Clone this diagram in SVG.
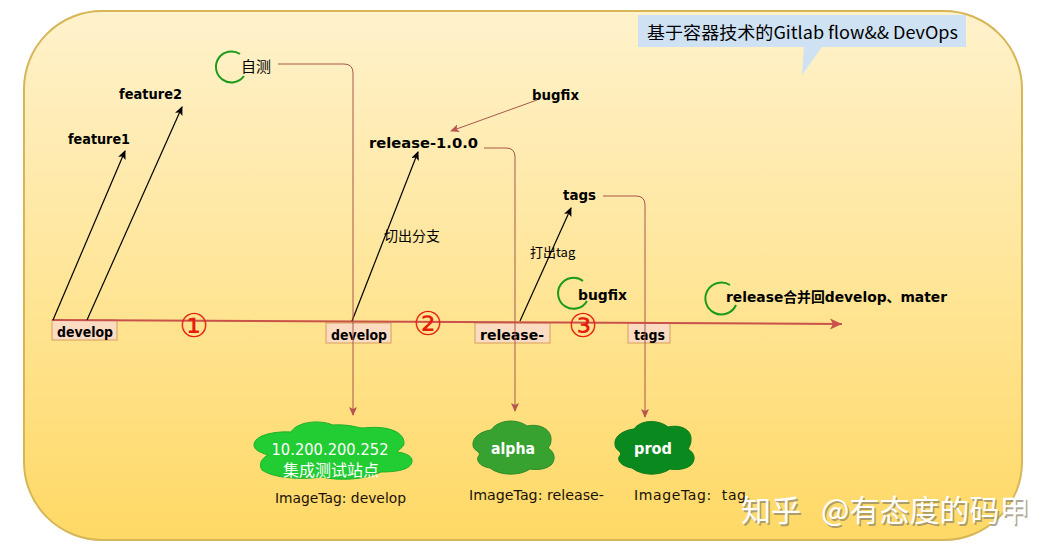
<svg xmlns="http://www.w3.org/2000/svg" width="1055" height="553" viewBox="0 0 1055 553">
<style>
text{font-family:"DejaVu Sans","Noto Sans CJK SC",sans-serif;fill:#000}
.b{font-size:14px;font-weight:bold}
.n{font-size:14px;fill:#1a1208}
.cjk{font-family:"Noto Sans CJK SC",sans-serif}
.tag{fill:#fbdcc2;stroke:#d6a05a;stroke-width:1}
.red{fill:none;stroke:#a8564a;stroke-width:1}
.blk{fill:none;stroke:#000;stroke-width:1.2}
.arc{fill:none;stroke:#1a9a1a;stroke-width:2}
.num{font-size:33px;fill:#e81c0c;font-family:"DejaVu Sans",sans-serif}
.cw{fill:#fff;font-weight:bold}
.wm{font-size:30px;font-family:"Noto Sans CJK SC",sans-serif}
</style>
<defs>
<linearGradient id="bg" x1="0" y1="0" x2="0" y2="1"><stop offset="0" stop-color="#fff2cc"/><stop offset="1" stop-color="#ffd966"/></linearGradient>
<marker id="ak" markerWidth="9" markerHeight="9" refX="8" refY="4" orient="auto" markerUnits="userSpaceOnUse"><path d="M0 0L9 4L0 8L2 4Z" fill="#000"/></marker>
<marker id="ar" markerWidth="9" markerHeight="9" refX="8" refY="4" orient="auto" markerUnits="userSpaceOnUse"><path d="M0 0L9 4L0 8L2 4Z" fill="#b85450"/></marker>
<marker id="am" markerWidth="13" markerHeight="12" refX="12" refY="5.5" orient="auto" markerUnits="userSpaceOnUse"><path d="M0 0L12 5.5L0 11L3 5.5Z" fill="#c9524a"/></marker>
</defs>
<rect width="1055" height="553" fill="#fff"/>
<g id="panel"><rect x="24" y="11" width="998" height="529" rx="78" ry="78" fill="url(#bg)" stroke="#d6b656" stroke-width="2"/></g>
<g id="callout"><path d="M638 15H966V47H822L802 75L804 47H638Z" fill="#cfe2f3"/>
<text x="647" y="39" font-size="17px" style="font-family:'Noto Sans CJK SC',sans-serif" textLength="311" lengthAdjust="spacingAndGlyphs">基于容器技术的Gitlab flow&amp;&amp; DevOps</text></g>
<g id="feature1"><text class="b" x="68" y="144" textLength="62" lengthAdjust="spacingAndGlyphs">feature1</text></g>
<g id="feature2"><text class="b" x="119" y="99" textLength="63" lengthAdjust="spacingAndGlyphs">feature2</text></g>
<g id="selftest"><text x="241" y="72" font-size="15px" style="font-family:'Noto Sans CJK SC',sans-serif">自测</text><path class="arc" d="M240 54A15.5 15.5 0 1 0 244 76"/></g>
<g id="release"><text class="b" x="369" y="148" textLength="109" lengthAdjust="spacingAndGlyphs">release-1.0.0</text></g>
<g id="bugfix-top"><text class="b" x="532" y="100" textLength="47" lengthAdjust="spacingAndGlyphs">bugfix</text></g>
<g id="tags-top"><text class="b" x="563" y="200" textLength="33" lengthAdjust="spacingAndGlyphs">tags</text></g>
<g id="label-cut"><text x="384" y="241" font-size="14px" style="font-family:'Noto Sans CJK SC',sans-serif">切出分支</text></g>
<g id="label-tag"><text x="530" y="257" font-size="13px" style="font-family:'Noto Sans CJK SC',sans-serif">打出tag</text></g>
<g id="bugfix-mid"><path class="arc" d="M583 281A15.5 15.5 0 1 0 587 301"/><text class="b" x="578" y="300" textLength="49" lengthAdjust="spacingAndGlyphs">bugfix</text></g>
<g id="merge"><path class="arc" d="M730 285A16 16 0 1 0 736 305"/><text class="b" x="726" y="302" textLength="221" lengthAdjust="spacingAndGlyphs">release合并回develop、mater</text></g>
<g id="tag-develop1"><rect class="tag" x="52" y="320" width="65" height="20"/><text class="b" x="57" y="337" textLength="56" lengthAdjust="spacingAndGlyphs">develop</text></g>
<g id="tag-develop2"><rect class="tag" x="326" y="323" width="65" height="20"/><text class="b" x="331" y="340" textLength="56" lengthAdjust="spacingAndGlyphs">develop</text></g>
<g id="tag-release"><rect class="tag" x="475" y="323" width="75" height="20"/><text class="b" x="480" y="340" textLength="64" lengthAdjust="spacingAndGlyphs">release-</text></g>
<g id="tag-tags"><rect class="tag" x="628" y="323" width="42" height="20"/><text class="b" x="634" y="340" textLength="31" lengthAdjust="spacingAndGlyphs">tags</text></g>
<g id="cloud-dev"><path d="M254 445C254 436 272 431 291 432C297 422 318 419 333 425C350 424 358 428 363 428C390 425 405 433 404 444C403 448 398 450 397 452C408 453 413 458 412 461C412 470 395 472 381 472C365 480 338 481 322 477C300 480 273 478 262 470C258 464 262 458 268 455C258 452 254 449 254 445Z" fill="#22cc33" stroke="#1fb02c"/><text class="cw" x="330" y="455" text-anchor="middle" font-size="15px" textLength="117" lengthAdjust="spacingAndGlyphs" style="font-weight:normal">10.200.200.252</text><text class="cw" x="331" y="476" text-anchor="middle" font-size="16px" style="font-family:'Noto Sans CJK SC',sans-serif;font-weight:normal">集成测试站点</text></g>
<g id="cloud-alpha"><path d="M473 445C472 437 482 431 491 430C498 420 516 418 527 426C540 423 552 430 551 440C551 443 550 446 548 448C555 452 556 460 551 465C545 470 535 470 530 469C520 476 500 476 490 468C482 467 476 462 478 457C479 455 481 454 477 451C474 449 473 447 473 445Z" fill="#37a22f" stroke="#2f8a28"/><text class="cw" x="513" y="454" text-anchor="middle" font-size="16px" textLength="44" lengthAdjust="spacingAndGlyphs" style="font-weight:600">alpha</text></g>
<g id="cloud-prod"><path d="M615 444C614 436 624 430 634 429C640 420 658 419 668 427C681 424 692 430 691 440C691 443 690 446 688 449C695 453 696 460 691 465C685 470 675 470 670 469C660 476 642 476 632 468C624 467 617 462 619 457C620 455 622 454 619 451C616 449 615 447 615 444Z" fill="#0a8a1e" stroke="#0a7a1a"/><text class="cw" x="653" y="454" text-anchor="middle" font-size="16px" textLength="38" lengthAdjust="spacingAndGlyphs" style="font-weight:600">prod</text></g>
<g id="imgtag-dev"><text class="n" x="275" y="503" textLength="131" lengthAdjust="spacingAndGlyphs">ImageTag: develop</text></g>
<g id="imgtag-rel"><text class="n" x="469" y="500" textLength="135" lengthAdjust="spacingAndGlyphs">ImageTag: release-</text></g>
<g id="imgtag-prod"><text class="n" x="634" y="500" xml:space="preserve" textLength="112" lengthAdjust="spacing">ImageTag:  tag</text></g>
<g id="connectors">
<path d="M52 320L842 324" fill="none" stroke="#c9524a" stroke-width="2" marker-end="url(#am)"/>
<path class="blk" d="M53 320L125 151" marker-end="url(#ak)"/>
<path class="blk" d="M87 320L182 107" marker-end="url(#ak)"/>
<path class="blk" d="M352 321L418 152" marker-end="url(#ak)"/>
<path class="blk" d="M520 321L571 208" marker-end="url(#ak)"/>
<path class="red" d="M278 64H344Q353 64 353 73V415" marker-end="url(#ar)"/>
<path class="red" d="M484 148H506Q515 148 515 157V411" marker-end="url(#ar)"/>
<path class="red" d="M603 196H636Q645 196 645 205V417" marker-end="url(#ar)"/>
<path class="red" d="M537 100L451 131" marker-end="url(#ar)"/>
</g>
<g id="num1"><text class="num" x="194" y="337" text-anchor="middle">①</text></g>
<g id="num2"><text class="num" x="428" y="335" text-anchor="middle">②</text></g>
<g id="num3"><text class="num" x="583" y="337" text-anchor="middle">③</text></g>
<g id="watermark">
<text class="wm" x="742.500" y="522.500" style="fill:#8d8468" opacity=".7">知乎<tspan x="822.500">@有态度的码甲</tspan></text>
<text class="wm" x="741" y="521" style="fill:#fff">知乎<tspan x="821">@有态度的码甲</tspan></text>
</g>
</svg>
